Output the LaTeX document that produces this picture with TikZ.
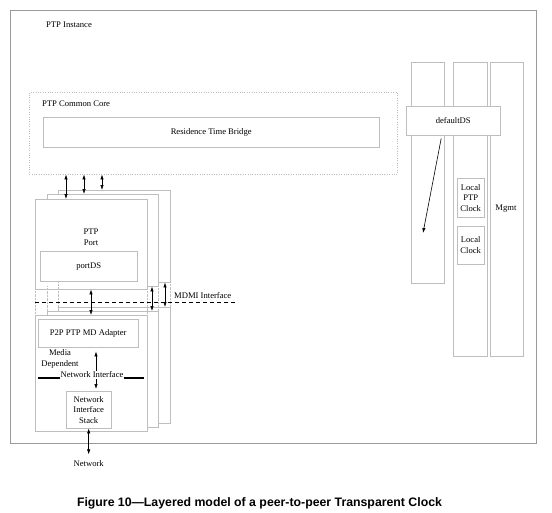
\documentclass[tikz,border=0pt]{standalone}
\usepackage{fontspec}
\setmainfont{Liberation Serif}
\newfontfamily\capfont{Liberation Sans}
\usetikzlibrary{arrows, arrows.meta, positioning, fit, backgrounds}
\definecolor{BoxGray}{HTML}{BEBEBE}
\definecolor{FrameGray}{HTML}{9A9A9A}

\begin{document}
\begin{tikzpicture}[x=1pt,y=-1pt,
			every node/.style={font=\fontsize{8.6}{10.5}\selectfont, inner sep=0pt, align=center},
			box/.style={draw=BoxGray,rectangle,anchor=north west,fill=white},
			layer/.style={box,minimum width=112pt},
			link/.style={{Latex[length=5pt,width=3.4pt]}-{Latex[length=5pt,width=3.4pt]},semithick},
			gap/.style={draw=BoxGray,densely dotted}
		]
		\fill[white] (0,0) rectangle (552,512);
		\node (inst) [box,draw=FrameGray,minimum width=526pt,minimum height=433pt] at (10,10) {};
		\node (instLbl) [anchor=west] at (46,25) {PTP Instance};
		% common core
		\node (core) [box,dotted,minimum width=368pt,minimum height=82pt] at (29,92) {};
		\node (coreLbl) [anchor=west] at (42,104) {PTP Common Core};
		\node (rtb) [box,minimum width=336pt,minimum height=30pt] at (43,117) {Residence Time Bridge};
		% right hand columns
		\node (colDS) [box,minimum width=33pt,minimum height=221pt] at (411,62) {};
		\node (colClk) [box,minimum width=34pt,minimum height=294pt] at (453,62) {};
		\node (mgmt) [box,minimum width=33pt,minimum height=294pt] at (490,62) {};
		\node (mgmtLbl) at (506,209) {Mgmt};
		\node (dflt) [box,minimum width=94pt,minimum height=29pt] at (406,106) {defaultDS};
		\node (ptpClk) [box,minimum width=27pt,minimum height=39pt] at (457,178) {Local\\PTP\\Clock};
		\node (locClk) [box,minimum width=27pt,minimum height=38pt] at (457,226) {Local\\Clock};
		\coordinate (dsEnd) at (423,233);
		\draw[-{Latex[length=5pt,width=3.4pt]},semithick] ([xshift=-12pt,yshift=-3pt]dflt.south) -- (dsEnd);
		% port stacks
		\node (portC) [layer,minimum height=92pt] at (58,190) {};
		\node (portB) [layer,minimum width=111pt,minimum height=92pt] at (47,194) {};
		\node (portA) [layer,minimum height=90pt] at (35,199) {};
		\node (mdC) [layer,minimum height=116pt] at (58,307) {};
		\node (mdB) [layer,minimum width=111pt,minimum height=116pt] at (47,311) {};
		\node (mdA) [layer,minimum height=116pt] at (35,315) {};
		\foreach \s in {A,B,C}
		{
			\draw[gap] (port\s.south west) -- (md\s.north west);
			\draw[gap] (port\s.south east) -- (md\s.north east);
		}
		\node (portLbl) at (91,237) {PTP\\Port};
		\node (portDS) [box,minimum width=97pt,minimum height=30pt] at (40,251) {portDS};
		\node (adapter) [box,minimum width=100pt,minimum height=28pt] at (38,319) {P2P PTP MD Adapter};
		\node (mdLbl) at (60,359) {Media\\Dependent};
		\node (nis) [box,minimum width=45pt,minimum height=37pt] at (66,391) {Network\\Interface\\Stack};
		\node (net) [below=26pt of nis,inner ysep=6pt] {Network};
		% arrows between layers
		\coordinate (xA) at (66,0);
		\coordinate (xB) at (84,0);
		\coordinate (xC) at (102,0);
		\coordinate (xMid) at (91,0);
		\coordinate (xMB) at (152,0);
		\coordinate (xMC) at (165,0);
		\coordinate (xNis) at (96,0);
		\draw[link] (xA |- core.south) -- (xA |- portA.north);
		\draw[link] (xB |- core.south) -- (xB |- portB.north);
		\draw[link] (xC |- core.south) -- (xC |- portC.north);
		\draw[link] (xMid |- portA.south) -- (xMid |- mdA.north);
		\draw[link] (xMB |- portB.south) -- (xMB |- mdB.north);
		\draw[link] (xMC |- portC.south) -- (xMC |- mdC.north);
		\draw[link] ([yshift=-4pt]xNis |- adapter.south) -- ([yshift=2pt]xNis |- nis.north);
		\draw[link] (nis.south) -- (net.north);
		\node (nifLbl) [fill=white,inner ysep=1pt] at (92,375) {Network Interface};
		% interfaces
		\coordinate (mdmiL) at (35,302);
		\coordinate (mdmiR) at (237,302);
		\draw[thick,dash pattern=on 4pt off 3pt] (mdmiL) -- (mdmiR);
		\node (mdmiLbl) [anchor=west] at (174,296) {MDMI Interface};
		\coordinate (nifL) at (38,378);
		\coordinate (nifR) at (144,378);
		\draw[line width=1.4pt] (nifL) -- (nifLbl.west |- nifL);
		\draw[line width=1.4pt] (nifLbl.east |- nifR) -- (nifR);
		\node (caption) [font=\capfont\bfseries\fontsize{12.3}{14}\selectfont] at (259.5,503)
			{Figure 10—Layered model of a peer-to-peer Transparent Clock};
	\end{tikzpicture}
\end{document}
